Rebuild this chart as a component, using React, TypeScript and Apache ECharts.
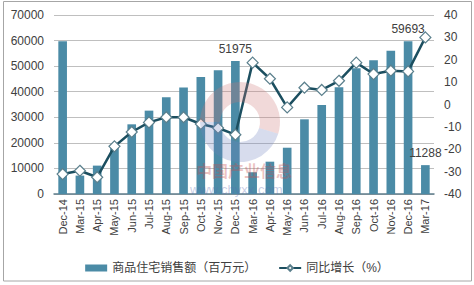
import React, { useEffect, useRef } from "react";
import * as echarts from "echarts";

const categories = [
  "Dec-14", "Mar-15", "Apr-15", "May-15", "Jun-15", "Jul-15", "Aug-15", "Sep-15",
  "Oct-15", "Nov-15", "Dec-15", "Mar-16", "Apr-16", "May-16", "Jun-16", "Jul-16",
  "Aug-16", "Sep-16", "Oct-16", "Nov-16", "Dec-16", "Mar-17",
];
const salesValues = [
  59700, 7200, 11100, 18500, 27250, 32600, 37800, 41600, 45750, 48400, 51975,
  8490, 12640, 18100, 29200, 34800, 41700, 49150, 52300, 56000, 59693, 11288,
];
const growthValues = [
  -31.1, -29.6, -32.5, -18.7, -12.3, -8.0, -5.7, -5.7, -8.7, -10.5, -13.5,
  18.7, 11.5, -1.3, 7.5, 6.5, 10.6, 18.7, 13.6, 15.1, 14.8, 30.0,
];
const labeledIndices = [10, 20, 21];
const leftTicks = { min: 0, max: 70000, interval: 10000 };
const rightTicks = { min: -40, max: 40, interval: 10 };
const seriesNames = ["商品住宅销售额（百万元）", "同比增长（%）"];

const FONT = "'Liberation Sans', 'Noto Sans CJK SC', sans-serif";

export default function App() {
  const ref = useRef<HTMLDivElement>(null);
  useEffect(() => {
    document.body.style.margin = "0";
    const chart = echarts.init(ref.current!, null, { renderer: "svg" });
    chart.setOption({
      animation: false,
      backgroundColor: "#ffffff",
      textStyle: { fontFamily: FONT },
      graphic: [
        {
          type: "rect",
          shape: { x: 3.5, y: 1.5, width: 468, height: 279.5 },
          style: { fill: "none", stroke: "#a6a6a6", lineWidth: 1 },
          z: 0,
        },
        {
          type: "sector",
          shape: { cx: 240, cy: 122, r: 40, r0: 20, startAngle: Math.PI, endAngle: Math.PI * 2 + 0.3 },
          style: { fill: "rgba(205,120,120,0.28)" },
          z: 100,
        },
        {
          type: "sector",
          shape: { cx: 240, cy: 122, r: 40, r0: 20, startAngle: 0.3, endAngle: Math.PI },
          style: { fill: "rgba(110,130,190,0.28)" },
          z: 100,
        },
        {
          type: "text",
          x: 196,
          y: 162,
          style: {
            text: "中国产业信息",
            fill: "rgba(200,80,80,0.35)",
            font: "bold 16px 'Noto Sans CJK SC'",
          },
          z: 100,
        },
        {
          type: "text",
          x: 190,
          y: 183,
          style: {
            text: "www.chyxx.com",
            fill: "rgba(90,110,180,0.35)",
            font: "13px 'Liberation Sans'",
          },
          z: 100,
        },
      ],
      grid: { left: 54, right: 40, top: 15, height: 179 },
      legend: {
        bottom: 6,
        left: "center",
        itemGap: 22,
        textStyle: { color: "#404040", fontSize: 12, fontFamily: FONT },
        data: [
          { name: seriesNames[0], icon: "rect" },
          { name: seriesNames[1] },
        ],
        itemWidth: 22,
        itemHeight: 7,
      },
      xAxis: {
        type: "category",
        data: categories,
        axisTick: { show: false },
        axisLine: { lineStyle: { color: "#5f7d8c", width: 1.5 } },
        axisLabel: {
          rotate: 90,
          color: "#404040",
          fontSize: 11,
          interval: 0,
          margin: 5,
        },
      },
      yAxis: [
        {
          type: "value",
          ...leftTicks,
          axisLine: { show: false },
          axisTick: { show: false },
          splitLine: { lineStyle: { color: "#bfbfbf", width: 1 } },
          axisLabel: {
            color: "#404040",
            fontSize: 12,
            margin: 10,
            formatter: (v: number) => String(v),
          },
        },
        {
          type: "value",
          ...rightTicks,
          axisLine: { show: false },
          axisTick: { show: false },
          splitLine: { show: false },
          axisLabel: { color: "#404040", fontSize: 12, margin: 10 },
        },
      ],
      series: [
        {
          name: seriesNames[0],
          type: "bar",
          yAxisIndex: 0,
          barWidth: "50%",
          itemStyle: { color: "#4b8ba6" },
          data: salesValues.map((v, i) =>
            labeledIndices.includes(i)
              ? {
                  value: v,
                  label: {
                    show: true,
                    position: "top",
                    distance: 6,
                    color: "#404040",
                    fontSize: 12,
                  },
                }
              : v
          ),
        },
        {
          name: seriesNames[1],
          type: "line",
          yAxisIndex: 1,
          data: growthValues,
          symbol: "diamond",
          symbolSize: 11,
          lineStyle: { color: "#1c4f60", width: 2.5 },
          itemStyle: { color: "#ffffff", borderColor: "#5a7f8c", borderWidth: 1.2 },
          z: 5,
        },
      ],
    });
    return () => chart.dispose();
  }, []);
  return (
    <div
      ref={ref}
      style={{ position: "absolute", left: 0, top: 0, width: 474, height: 285 }}
    />
  );
}
